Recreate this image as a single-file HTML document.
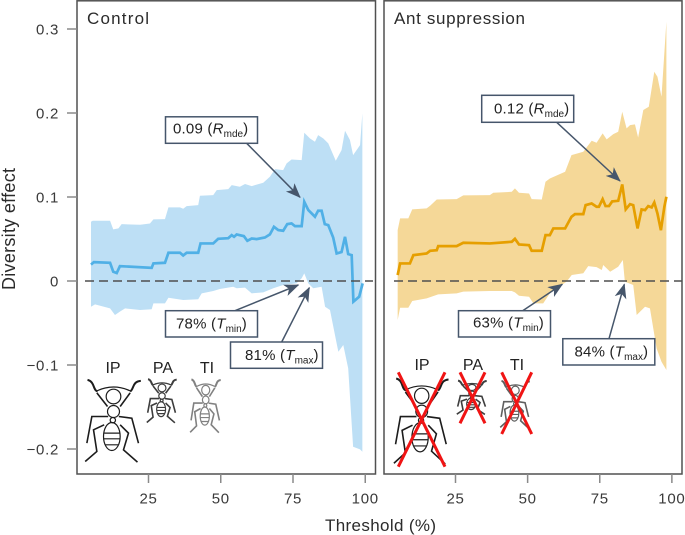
<!DOCTYPE html>
<html lang="en">
<head>
<meta charset="utf-8">
<title>Diversity effect by threshold</title>
<style>
html,body{margin:0;padding:0;background:#fff;width:685px;height:535px;overflow:hidden}
svg{display:block}
text{font-family:"Liberation Sans",sans-serif;fill:#2b2b2b}
.tick{font-size:15px;letter-spacing:.7px;fill:#3a3a3a}
.ann{font-size:15px;letter-spacing:.2px;fill:#222}
.sub{font-size:10px;letter-spacing:0}
.sp{font-size:16px;fill:#222}
.box{fill:#fff;stroke:#46566b;stroke-width:1.5}
.arr{stroke:#46566b;stroke-width:1.5;fill:none;marker-end:url(#arrow-head)}
.frame{fill:none;stroke:#505050;stroke-width:1.5}
.red{stroke:#f01414;stroke-width:3;stroke-linecap:butt}
</style>
</head>
<body>
<svg id="chart" xmlns="http://www.w3.org/2000/svg" width="685" height="535" viewBox="0 0 685 535">
<defs>
<marker id="arrow-head" viewBox="0 0 15 13" refX="14" refY="6.5" markerWidth="15" markerHeight="13" orient="auto" markerUnits="userSpaceOnUse"><path d="M0,0.5 L15,6.5 L0,12.5 L4,6.5Z" fill="#46566b"/></marker>
<g id="ant-shape" transform="translate(-130,-467)" fill="none" stroke="#1c1c1c" stroke-width="1.2">
<ellipse cx="130" cy="395" rx="22" ry="22" vector-effect="non-scaling-stroke"/>
<ellipse cx="130" cy="440" rx="18" ry="18" vector-effect="non-scaling-stroke"/>
<ellipse cx="128" cy="466" rx="8" ry="8" vector-effect="non-scaling-stroke"/>
<ellipse cx="125" cy="515" rx="25" ry="42" vector-effect="non-scaling-stroke"/>
<path vector-effect="non-scaling-stroke" d="M102,505H148M101,522H149M106,540H144"/>
<path vector-effect="non-scaling-stroke" stroke-width="2" d="M82,380C68,376 74,350 52,345M180,380C192,372 186,350 212,348"/>
<path vector-effect="non-scaling-stroke" d="M80,378Q130,355 180,378"/>
<path vector-effect="non-scaling-stroke" stroke-width="1.6" d="M112,425L80,384M150,425L180,384"/>
<path vector-effect="non-scaling-stroke" stroke-width="1.6" d="M114,455L65,455L50,535M146,455L185,460L205,535"/>
<path vector-effect="non-scaling-stroke" stroke-width="1.6" d="M102,480L70,495L80,560L45,590M150,480L175,505L160,555L202,592"/>
</g>
</defs>

<g id="fills-left"></g>
<g id="fills-right"></g>

<rect class="frame" x="77" y="0.8" width="298.5" height="473.2"/>
<rect class="frame" x="384" y="0.8" width="298" height="473.2"/>

<g id="axes"></g>

<text x="87" y="24" font-size="17" textLength="62">Control</text>
<text x="394" y="24" font-size="17" textLength="131">Ant suppression</text>
<text transform="translate(15,290) rotate(-90)" font-size="18" textLength="122">Diversity effect</text>
<text x="325" y="531" font-size="17" textLength="111">Threshold (%)</text>

<g id="annotations">
<line class="arr" x1="246.7" y1="143.3" x2="300" y2="197.3"/>
<rect class="box" x="165.5" y="116.8" width="92" height="26.5"/>
<text class="ann" x="173" y="133.5">0.09 (<tspan font-style="italic">R</tspan><tspan class="sub" dy="3.5">mde</tspan><tspan dy="-3.5">)</tspan></text>

<line class="arr" x1="235" y1="310.7" x2="298.3" y2="285"/>
<rect class="box" x="165.5" y="310.7" width="92" height="26.3"/>
<text class="ann" x="176" y="328.5">78% (<tspan font-style="italic">T</tspan><tspan class="sub" dy="3.5">min</tspan><tspan dy="-3.5">)</tspan></text>

<line class="arr" x1="281.7" y1="342" x2="309.3" y2="287.7"/>
<rect class="box" x="230.5" y="342" width="92" height="26.3"/>
<text class="ann" x="245" y="360">81% (<tspan font-style="italic">T</tspan><tspan class="sub" dy="3.5">max</tspan><tspan dy="-3.5">)</tspan></text>

<line class="arr" x1="556.7" y1="122.3" x2="620" y2="181"/>
<rect class="box" x="481.7" y="95.3" width="92" height="27"/>
<text class="ann" x="494" y="113.5">0.12 (<tspan font-style="italic">R</tspan><tspan class="sub" dy="3.5">mde</tspan><tspan dy="-3.5">)</tspan></text>

<line class="arr" x1="522.7" y1="310.7" x2="562.3" y2="284.3"/>
<rect class="box" x="458.5" y="310.7" width="92" height="26.3"/>
<text class="ann" x="473" y="327.5">63% (<tspan font-style="italic">T</tspan><tspan class="sub" dy="3.5">min</tspan><tspan dy="-3.5">)</tspan></text>

<line class="arr" x1="609" y1="338.7" x2="624.3" y2="284.3"/>
<rect class="box" x="562.8" y="338.7" width="92" height="26.3"/>
<text class="ann" x="574.5" y="356.7">84% (<tspan font-style="italic">T</tspan><tspan class="sub" dy="3.5">max</tspan><tspan dy="-3.5">)</tspan></text>
</g>

<g id="species">
<text class="sp" x="113" y="373" text-anchor="middle">IP</text>
<text class="sp" x="163" y="373" text-anchor="middle">PA</text>
<text class="sp" x="207" y="373" text-anchor="middle">TI</text>
<use href="#ant-shape" transform="translate(113.5,420.5) scale(.333,.333)"/>
<use href="#ant-shape" transform="translate(162,400.7) scale(.179,.177)" opacity=".85"/>
<use href="#ant-shape" transform="translate(205.7,405.7) scale(.183,.216)" opacity=".55"/>

<text class="sp" x="422" y="370" text-anchor="middle">IP</text>
<text class="sp" x="473" y="370" text-anchor="middle">PA</text>
<text class="sp" x="517" y="370" text-anchor="middle">TI</text>
<use href="#ant-shape" transform="translate(421.7,420.7) scale(.327,.346)"/>
<use href="#ant-shape" transform="translate(472,397.3) scale(.179,.137)" opacity=".85"/>
<use href="#ant-shape" transform="translate(515.3,404) scale(.177,.19)" opacity=".7"/>
<g><line class="red" x1="398.3" y1="372.3" x2="445" y2="466.7"/><line class="red" x1="445" y1="372.3" x2="398.3" y2="466.7"/></g>
<g><line class="red" x1="460" y1="372.3" x2="485" y2="423.3"/><line class="red" x1="485" y1="372.3" x2="460" y2="423.3"/></g>
<g><line class="red" x1="501.7" y1="372.3" x2="531.7" y2="434"/><line class="red" x1="531.7" y1="372.3" x2="501.7" y2="434"/></g>
</g>

<script>
const yTickValues = [0.3, 0.2, 0.1, 0, -0.1, -0.2];
const yTickLabels = ["0.3", "0.2", "0.1", "0", "\u22120.1", "\u22120.2"];
const xTickValues = [25, 50, 75, 100];

const controlMeanT = [5.1,6.1,11.7,12.8,14,15.1,26.1,26.7,30.7,31.9,35.9,37,38.2,42.2,43,47.4,49.1,52.6,53.8,54.6,55.5,58,59.2,60.7,62.4,65.3,67,68.4,69.9,71.6,73,74.5,75.7,78,78.9,80.3,82.6,83.7,84.9,86,87.2,88.9,90.1,91.8,93,94.1,95.3,95.9,97.9,99.1];
const controlMeanV = [.0195,.0225,.0217,.011,.0095,.0177,.0157,.0209,.0217,.0336,.0336,.0304,.0336,.0336,.0447,.0447,.0502,.051,.0546,.0526,.0554,.0534,.0479,.0506,.0499,.0518,.0554,.0645,.0606,.0598,.0677,.0685,.0653,.0653,.0943,.0844,.0765,.0836,.0836,.0677,.0665,.0518,.0328,.0344,.0526,.032,.0308,-.0246,-.0187,-.0028];
const controlUpperT = [5.1,5.7,11.7,12.8,14.6,15.7,22.1,25.5,26.7,30.7,31.9,35.9,37,38.2,42.2,42.8,47.4,48.6,52.6,53.8,56.6,58.4,60.7,64.7,67,68.8,71.6,72.8,74.5,78,78.9,80.9,82.6,83.7,85.5,87.2,89.8,91.8,93,94.7,95.8,98.2,99];
const controlUpperV = [.0705,.0717,.0717,.0614,.0626,.0677,.0669,.0685,.0733,.0737,.0876,.0876,.086,.0892,.0903,.1015,.1023,.1082,.1094,.1142,.1122,.1154,.113,.117,.1241,.1332,.132,.14,.1447,.1439,.1765,.1697,.1658,.1737,.1697,.1638,.1431,.1558,.1789,.1678,.1499,.1618,.1995];
const controlLowerT = [5.1,6.5,11.7,13.4,15.1,16.9,22.1,26.1,26.7,30.7,31.9,37,42.2,43.4,47.4,49.7,54.3,55.5,58.4,60.7,64.7,68.2,71.6,76.2,78,78.9,80.3,82,84.9,86.1,87.8,90.1,90.7,92.4,94.1,95.8,98.2,99];
const controlLowerV = [-.0306,-.0278,-.0326,-.0405,-.0365,-.0326,-.0345,-.0337,-.0266,-.0266,-.0199,-.0226,-.0218,-.0147,-.0119,-.0095,-.0068,-.0087,-.0079,-.0147,-.0135,-.0087,-.0048,-.0028,.0032,.0091,-.0028,-.0087,-.0068,-.0306,-.0345,-.0743,-.0842,-.0762,-.104,-.1973,-.2005,-.2033];

const antMeanT = [4.95,5.8,9.2,10.4,15,16.2,18.5,19,25.4,27.7,36.9,44.5,45.6,47,50.5,51.4,54.9,56.2,57.7,58.9,63,65.2,66.4,69.3,70.1,72.2,73.9,74.7,76,77,78.2,79.3,81.4,82.8,84,85.5,86.6,88.1,89.5,90.7,91.8,93,93.9,95,96.2,97.4,98.1];
const antMeanV = [.0071,.0209,.0209,.0308,.0328,.036,.0367,.0415,.0415,.0455,.0447,.0467,.0502,.0435,.0427,.036,.036,.0546,.0546,.0626,.0626,.0765,.0796,.0796,.0903,.0923,.0884,.0884,.0975,.0892,.0892,.0947,.0955,.115,.0852,.0915,.0903,.0626,.0852,.0844,.0892,.0876,.0935,.0804,.0605,.0884,.1003];
const antUpperT = [4.95,5.8,8.65,10,15,16.2,18.5,25.4,27.7,36.9,38.1,44.5,45.6,47,50.5,51.4,54.9,56.2,57.7,63,65.2,69.3,72.2,73.9,76,77.4,79.7,81.4,82.8,84.3,85.5,87.2,88.3,90.1,92,93.9,95,96.4,98.1];
const antUpperV = [.0606,.0745,.0745,.0852,.0864,.0896,.0971,.0975,.1019,.1023,.105,.1062,.1102,.105,.1042,.0975,.0971,.1181,.1221,.13,.1499,.1539,.167,.1646,.1757,.1686,.1749,.1777,.2015,.1817,.1856,.1864,.1709,.2035,.2075,.2491,.2432,.2194,.3087];
const antLowerT = [4.95,5.8,8.65,10,15,19,25.4,27.7,36.9,44.5,45.6,47,50.5,52,55.4,57.7,63.5,65.3,69.3,71,73.9,75.7,76.2,78.6,81.4,83,83.7,86.6,87.8,90.7,92.4,94.7,96.4,98.1];
const antLowerV = [-.0465,-.0318,-.0318,-.0238,-.0207,-.0159,-.0147,-.0127,-.0119,-.0119,-.0135,-.0175,-.0187,-.0266,-.0266,-.0147,-.0008,.0071,.0092,.0177,.0165,.0131,.019,.011,.017,.025,-.0008,-.0048,-.0405,-.0306,-.0326,-.0802,-.0961,-.106];

const SVGNS = "http://www.w3.org/2000/svg";
function yScale(v){ return 281 - v * 840; }
function xLeft(t){ return 148.5 + (t - 25) * 2.89; }
function xRight(t){ return 455.5 + (t - 25) * 2.885; }
function pathFrom(ts, vs, xf){
  return ts.map(function(t, i){ return xf(t).toFixed(2) + "," + yScale(vs[i]).toFixed(2); });
}
function make(tag, attrs){
  const el = document.createElementNS(SVGNS, tag);
  Object.keys(attrs).forEach(function(k){ el.setAttribute(k, attrs[k]); });
  return el;
}
function drawPanel(layerId, xf, upT, upV, loT, loV, mT, mV, fill, stroke, x1, x2){
  const layer = document.getElementById(layerId);
  const up = pathFrom(upT, upV, xf);
  const lo = pathFrom(loT, loV, xf).reverse();
  const band = make("path", {d: "M" + up.join("L") + "L" + lo.join("L") + "Z", fill: fill, stroke: "none"});
  
  
  layer.appendChild(band);
  const line = make("path", {d: "M" + pathFrom(mT, mV, xf).join("L"), fill: "none", stroke: stroke, "stroke-width": 2.7, "stroke-linejoin": "miter"});
  
  
  layer.appendChild(line);
  const zero = make("line", {x1: x1, x2: x2, y1: yScale(0), y2: yScale(0), stroke: "#4f4f4f", "stroke-width": 1.5, "stroke-dasharray": "9 5"});
  
  
  layer.appendChild(zero);
}
drawPanel("fills-left", xLeft, controlUpperT, controlUpperV, controlLowerT, controlLowerV, controlMeanT, controlMeanV, "#bddff5", "#50b0e6", 85, 373);
drawPanel("fills-right", xRight, antUpperT, antUpperV, antLowerT, antLowerV, antMeanT, antMeanV, "#f5d898", "#e69f00", 394, 682);

const axes = document.getElementById("axes");
yTickValues.forEach(function(v, i){
  const tick = make("line", {x1: 67, x2: 77, y1: yScale(v), y2: yScale(v), stroke: "#8a8a8a", "stroke-width": 1.5});
  
  
  axes.appendChild(tick);
  const label = make("text", {x: 59, y: yScale(v) + 5.5, "text-anchor": "end", "class": "tick"});
  
  
  label.textContent = yTickLabels[i];
  axes.appendChild(label);
});
[xLeft, xRight].forEach(function(xf){
  xTickValues.forEach(function(t){
    const tick = make("line", {x1: xf(t), x2: xf(t), y1: 474, y2: 483, stroke: "#8a8a8a", "stroke-width": 1.5});
    
    
    axes.appendChild(tick);
    const label = make("text", {x: xf(t), y: 503.5, "text-anchor": "middle", "class": "tick"});
    
    
    label.textContent = String(t);
    axes.appendChild(label);
  });
});
</script>
</svg>
</body>
</html>
